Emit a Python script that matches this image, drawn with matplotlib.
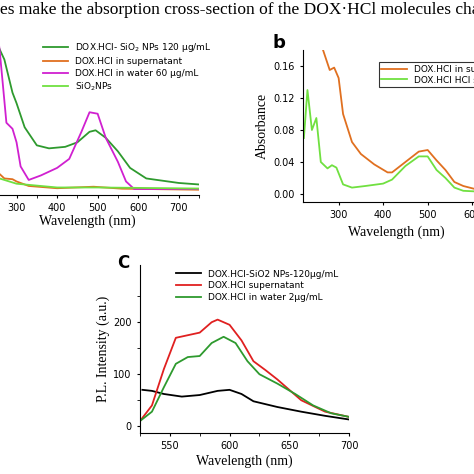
import numpy as np
import matplotlib
matplotlib.use('Agg')
import matplotlib.pyplot as plt

# panel a (absorbance, arbitrary units)
a_green_x = [250, 258, 270, 290, 300, 320, 350, 380, 420, 450, 480, 495, 520, 550, 580, 620, 700, 750]
a_green_y = [1.0, 0.94, 0.87, 0.65, 0.58, 0.42, 0.30, 0.28, 0.29, 0.32, 0.39, 0.40, 0.35, 0.26, 0.15, 0.08, 0.05, 0.04]
a_mag_x = [250, 258, 265, 275, 290, 300, 310, 330, 360, 400, 430, 460, 480, 500, 520, 550, 570, 590, 750]
a_mag_y = [1.1, 0.94, 0.74, 0.45, 0.41, 0.32, 0.16, 0.07, 0.10, 0.15, 0.21, 0.39, 0.52, 0.51, 0.35, 0.19, 0.06, 0.01, 0.01]
a_org_x = [250, 258, 270, 290, 300, 330, 400, 490, 560, 750]
a_org_y = [0.12, 0.11, 0.08, 0.075, 0.06, 0.03, 0.015, 0.025, 0.012, 0.005]
a_lg_x = [250, 258, 300, 400, 500, 750]
a_lg_y = [0.09, 0.08, 0.045, 0.02, 0.02, 0.013]

# panel b
b_org_x = [265, 280, 290, 300, 310, 330, 350, 380, 410, 420, 450, 480, 500, 520, 540, 560, 580, 615]
b_org_y = [0.18, 0.155, 0.158, 0.145, 0.10, 0.065, 0.05, 0.037, 0.027, 0.027, 0.04, 0.053, 0.055, 0.042, 0.03, 0.015, 0.01, 0.005]
b_lg_x = [222, 230, 240, 250, 260, 275, 285, 295, 310, 330, 360, 400, 420, 450, 480, 500, 520, 540, 560, 580, 615]
b_lg_y = [0.07, 0.13, 0.08, 0.095, 0.04, 0.032, 0.036, 0.033, 0.012, 0.008, 0.01, 0.013, 0.018, 0.035, 0.047, 0.047, 0.03, 0.02, 0.008, 0.004, 0.003]

# panel c
c_blk_x = [527, 535, 545, 560, 575, 590, 600, 610, 620, 640, 660, 680, 700]
c_blk_y = [70, 68, 62, 57, 60, 68, 70, 62, 48, 37, 28, 20, 13]
c_red_x = [525, 535, 545, 555, 565, 575, 585, 590, 600, 610, 620, 630, 640, 650, 660, 680, 700]
c_red_y = [10, 40, 110, 170, 175, 180, 200, 205, 195, 165, 125, 108, 90, 70, 50, 28, 18]
c_grn_x = [525, 535, 545, 555, 565, 575, 585, 595, 605, 615, 625, 640, 655, 670, 685, 700]
c_grn_y = [10, 28, 75, 120, 133, 135, 160, 172, 160, 125, 100, 82, 62, 40, 25, 18]

W = 474.0
def box(l, t, r, b):
    return [l / W, 1 - b / W, (r - l) / W, (b - t) / W]

fig = plt.figure(figsize=(4.74, 4.74), dpi=100)
serif = 'Liberation Serif'
fig.text(0.0, 1 - 10 / W, 'es make the absorption cross-section of the DOX\u00b7HCl molecules cha',
         family=serif, fontsize=12.5, va='center', ha='left')

def style(ax):
    for s in ['top', 'right']:
        ax.spines[s].set_visible(False)
    ax.tick_params(labelsize=7, length=2.5, width=0.8)

# a
ax = fig.add_axes(box(-24, 40, 199, 195))
ax.plot(a_green_x, a_green_y, color='#2e9a2e', lw=1.3, label='DOX.HCl- SiO$_2$ NPs 120 \u03bcg/mL')
ax.plot(a_org_x, a_org_y, color='#e07020', lw=1.3, label='DOX.HCl in supernatant')
ax.plot(a_mag_x, a_mag_y, color='#d020d0', lw=1.3, label='DOX.HCl in water 60 \u03bcg/mL')
ax.plot(a_lg_x, a_lg_y, color='#70e040', lw=1.3, label='SiO$_2$NPs')
ax.set_xlim(200, 750)
ax.set_ylim(-0.03, 1.0)
ax.set_xticks([300, 400, 500, 600, 700])
ax.set_xticks([250, 350, 450, 550, 650, 750], minor=True)
ax.set_yticks([])
style(ax)
ax.set_xlabel('Wavelength (nm)', family=serif, fontsize=10, labelpad=1)
ax.legend(loc='upper left', bbox_to_anchor=(0.28, 1.02), frameon=False, fontsize=6.5,
          handlelength=2.8, labelspacing=0.3, borderpad=0)

# b
ax = fig.add_axes(box(303, 50, 490, 202))
ax.plot(b_org_x, b_org_y, color='#e07020', lw=1.3, label='DOX.HCl in supernatant')
ax.plot(b_lg_x, b_lg_y, color='#70e040', lw=1.3, label='DOX.HCl HCl solution')
ax.set_xlim(220, 640)
ax.set_ylim(-0.01, 0.18)
ax.set_xticks([300, 400, 500, 600])
ax.set_yticks([0.0, 0.04, 0.08, 0.12, 0.16])
ax.set_yticklabels(['0.00', '0.04', '0.08', '0.12', '0.16'])
style(ax)
ax.set_xlabel('Wavelength (nm)', family=serif, fontsize=10, labelpad=4)
ax.set_ylabel('Absorbance', family=serif, fontsize=10, labelpad=3)
leg = ax.legend(loc='upper left', bbox_to_anchor=(0.38, 0.95), fontsize=6.5, handlelength=2.8,
                labelspacing=0.2, fancybox=False, borderpad=0.3)
leg.get_frame().set_edgecolor('black')
leg.get_frame().set_linewidth(0.8)
fig.text(279 / W, 1 - 43 / W, 'b', fontsize=13, fontweight='bold', ha='center', va='center')

# c
ax = fig.add_axes(box(140, 265, 349, 433))
ax.plot(c_blk_x, c_blk_y, color='black', lw=1.3, label='DOX.HCl-SiO2 NPs-120\u03bcg/mL')
ax.plot(c_red_x, c_red_y, color='#e02020', lw=1.3, label='DOX.HCl supernatant')
ax.plot(c_grn_x, c_grn_y, color='#2e9a2e', lw=1.3, label='DOX.HCl in water 2\u03bcg/mL')
ax.set_xlim(525, 700)
ax.set_ylim(-13, 310)
ax.set_xticks([550, 600, 650, 700])
ax.set_xticks([525, 575, 625, 675], minor=True)
ax.set_yticks([0, 100, 200])
ax.set_yticks([50, 150, 250], minor=True)
style(ax)
ax.set_xlabel('Wavelength (nm)', family=serif, fontsize=10, labelpad=2)
ax.set_ylabel('P.L. Intensity (a.u.)', family=serif, fontsize=10, labelpad=2)
ax.legend(loc='upper left', bbox_to_anchor=(0.15, 1.0), frameon=False, fontsize=6.5,
          handlelength=2.8, labelspacing=0.3, borderpad=0)
fig.text(123 / W, 1 - 263 / W, 'C', fontsize=12, fontweight='bold', ha='center', va='center')

fig.savefig('out.png', dpi=100)
